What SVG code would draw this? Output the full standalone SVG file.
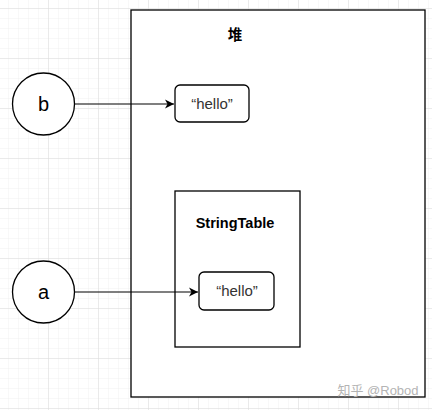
<svg xmlns="http://www.w3.org/2000/svg" width="432" height="410" viewBox="0 0 432 410">
<style>
.box{fill:#fff;stroke:#000;stroke-width:1.3}
.lbl{font-family:"Liberation Sans",Arial,sans-serif;fill:#000}
.str{font-family:"Liberation Sans",Arial,sans-serif;font-size:15px;fill:#333;text-anchor:middle}
.bold{font-family:"Liberation Sans","Noto Sans CJK SC",sans-serif;font-size:14.5px;font-weight:bold;text-anchor:middle}
.edge{stroke:#000;stroke-width:1.2;fill:none;marker-end:url(#arr)}
</style>
<defs>
<pattern id="minor" width="10" height="10" patternUnits="userSpaceOnUse" x="-1" y="-1">
<path d="M10 0V10M0 10H10" stroke="#f0f0f0" stroke-width="1" fill="none"/>
</pattern>
<pattern id="major" width="50" height="50" patternUnits="userSpaceOnUse" x="-1" y="-41">
<path d="M50 0V50M0 50H50" stroke="#dcdcdc" stroke-width="1" fill="none"/>
</pattern>
<marker id="arr" markerWidth="10" markerHeight="10" refX="9" refY="5" orient="auto" markerUnits="userSpaceOnUse">
<path d="M0 0.5L9 5L0 9.5L2.5 5Z" fill="#000"/>
</marker>
</defs>
<rect width="432" height="410" fill="#fff"/>
<rect width="432" height="410" fill="url(#minor)"/>
<rect width="432" height="410" fill="url(#major)"/>
<g id="heap">
<rect class="box" x="131" y="10" width="294" height="387" stroke="#222"/>
<text class="bold" x="235" y="40">堆</text>
</g>
<g id="stringtable">
<rect class="box" x="175" y="191" width="125" height="156"/>
<text class="bold" x="235" y="228">StringTable</text>
</g>
<g id="hello1">
<rect class="box" x="175" y="85" width="74" height="37" rx="5"/>
<text class="str" x="212" y="109">“hello”</text>
</g>
<g id="hello2">
<rect class="box" x="199" y="272" width="75" height="38" rx="5"/>
<text class="str" x="237" y="296">“hello”</text>
</g>
<g id="b">
<circle class="box" cx="43.5" cy="104" r="31"/>
<text class="lbl" x="43.5" y="111" font-size="20" text-anchor="middle">b</text>
</g>
<g id="a">
<circle class="box" cx="43.5" cy="292" r="31"/>
<text class="lbl" x="43.5" y="299" font-size="20" text-anchor="middle">a</text>
</g>
<g id="connectors">
<path class="edge" d="M75 104H174"/>
<path class="edge" d="M75 292H198"/>
</g>
<text x="378" y="395" font-family="'Liberation Sans','Noto Sans CJK SC',sans-serif" font-size="13" fill="#b4b4b4" text-anchor="middle">知乎 @Robod</text>
</svg>
